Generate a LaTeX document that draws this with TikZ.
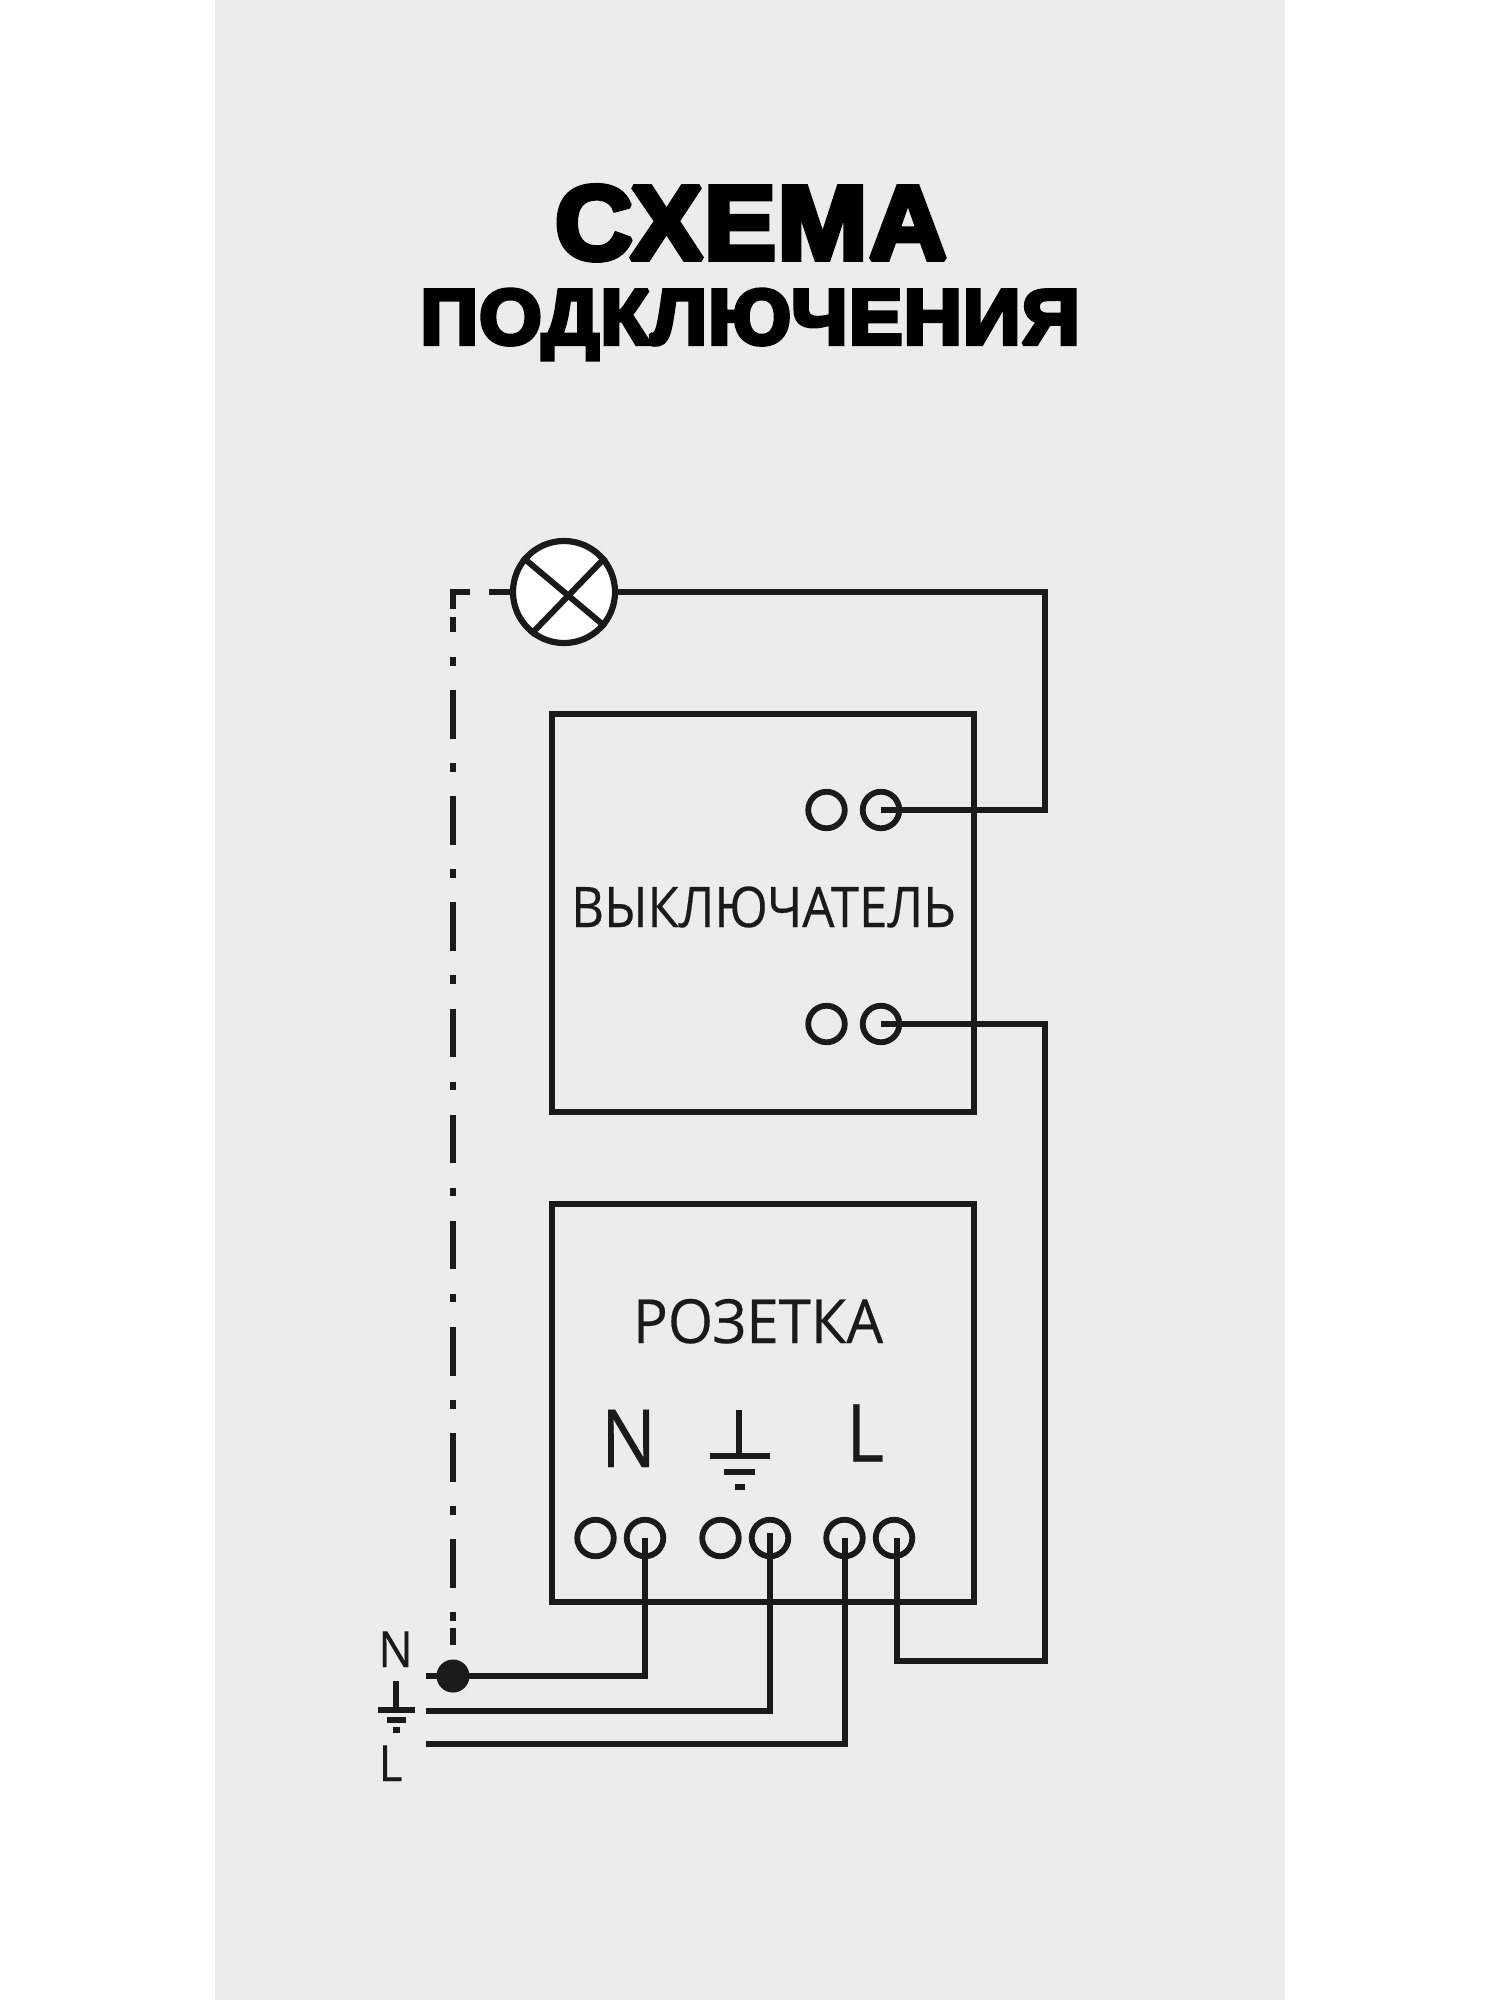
\documentclass[tikz,border=0pt]{standalone}
\usepackage{fontspec}
\newfontfamily\labelfont[FakeStretch=0.91,FakeBold=0.35]{Open Sans}
\newfontfamily\widelabelfont[FakeStretch=0.955,FakeBold=0.35]{Open Sans}
\newfontfamily\titlefont[FakeBold=5.5,FakeStretch=1.03,LetterSpace=1.5]{Liberation Sans Bold}
\definecolor{panelgray}{HTML}{ECECEC}
\definecolor{ink}{HTML}{1A1A18}
\tikzset{
    wire/.style={draw=ink, line width=0.06cm},
    boxframe/.style={draw=ink, line width=0.063cm, minimum width=4.22cm,
        minimum height=3.98cm, inner sep=0pt},
    terminal/.style={circle, draw=ink, line width=0.058cm,
        minimum size=0.365cm, inner sep=0pt},
    txt/.style={text=ink, anchor=base, inner sep=0pt},
    heading/.style={text=black, anchor=base, inner sep=0pt},
    neutral/.style={draw=ink, line width=0.06cm,
        dash pattern=on 0.085cm off 0.245cm on 0.486cm off 0.245cm},
}
\begin{document}
\begin{tikzpicture}[x=0.01cm, y=-0.01cm]
    \useasboundingbox (0,0) rectangle (1500,2000);
    \fill[panelgray] (215,0) rectangle (1285,2000);

    \begin{scope}[miter limit=1.5]
    \node[heading, font=\titlefont\fontsize{29.8}{32}\selectfont]
        (title) at (751,259) {СХЕМА};
    \node[heading, font=\titlefont\fontsize{22.2}{24}\selectfont]
        (subtitle) at (750,344) {ПОДКЛЮЧЕНИЯ};
    \end{scope}

    \node[boxframe] (switch) at (763,913) {};
    \node[boxframe] (socket) at (763,1403) {};
    \node[txt, font=\labelfont\fontsize{15.9}{18}\selectfont]
        (switchname) at (763.5,927) {ВЫКЛЮЧАТЕЛЬ};
    \node[txt, font=\widelabelfont\fontsize{17.3}{20}\selectfont]
        (socketname) at (758,1343) {РОЗЕТКА};
    \node[txt, font=\labelfont\fontsize{22.8}{26}\selectfont]
        (sockn) at (628.5,1467) {N};
    \node[txt, font=\labelfont\fontsize{22.8}{26}\selectfont]
        (sockl) at (865,1461.5) {L};
    \node[txt, font=\labelfont\fontsize{14.2}{16}\selectfont]
        (linen) at (395.5,1667) {N};
    \node[txt, font=\labelfont\fontsize{14.2}{16}\selectfont]
        (linel) at (390.5,1781) {L};

    % terminals
    \foreach \name/\x/\y in {
        sa/826.5/810, sb/881/810, sc/826.5/1024, sd/881/1024,
        ta/595.5/1538, tb/645/1538, tc/720.5/1538,
        td/770/1538, te/844.5/1538, tf/894/1538%
    } {
        \node[terminal] (\name) at (\x,\y) {};
    }

    % earth signs
    \foreach \x/\y/\k in {739.5/1456/1, 396.5/1710/.63} {
        \fill[ink] (\x-4,\y-46*\k) rectangle (\x+2,\y);
        \fill[ink] (\x-30*\k,\y-3) rectangle (\x+30*\k,\y+3);
        \fill[ink] (\x-15.5*\k,\y+15.5*\k-3) rectangle (\x+15.5*\k,\y+15.5*\k+3);
        \fill[ink] (\x-5*\k,\y+31*\k-3) rectangle (\x+5*\k,\y+31*\k+3);
    }

    % lamp
    \node[circle, draw=ink, fill=white, line width=0.062cm,
        minimum size=1.02cm, inner sep=0pt] (lamp) at (564,592) {};
    \draw[wire] (lamp.140) -- (lamp.-40);
    \draw[wire] (lamp.40) -- (lamp.232);

    % free ends
    \coordinate (railtop) at (1045,592);
    \coordinate (railbot) at (1045,1661);
    \coordinate (endn) at (426,1676);
    \coordinate (ende) at (426,1711);
    \coordinate (endl) at (426,1744);
    \coordinate (lampstub) at (489,592);
    \coordinate (cornerend) at (470,592);
    \coordinate (corner) at (453,592);
    \coordinate (a1) at (453,609);
    \coordinate (a2) at (453,617);
    \coordinate (a3) at (453,632);
    \coordinate (a4) at (453,657);
    \coordinate (a5) at (453,1621);
    \coordinate (a6) at (453,1628);
    \coordinate (a7) at (453,1645);

    % wires
    \draw[wire] (lamp.east) -- (railtop) |- (sb.center);
    \draw[wire] (sd.center) -| (railbot) -| ([xshift=0.03cm]tf.center);
    \foreach \a/\b in {tb/endn, te/endl} {
        \draw[wire] (\a.center) |- (\b);
    }
    \draw[wire] ([yshift=0.05cm]td.center) |- (ende);

    % neutral return
    \draw[wire] (lampstub) -- (lamp.west);
    \draw[wire] (cornerend) -- (corner) -- (a1);
    \draw[wire] (a2) -- (a3);
    \draw[neutral] (a4) -- (a5);
    \draw[wire] (a6) -- (a7);
    \node[circle, fill=ink, minimum size=0.33cm, inner sep=0pt] (joint) at (453,1676) {};
\end{tikzpicture}
\end{document}
